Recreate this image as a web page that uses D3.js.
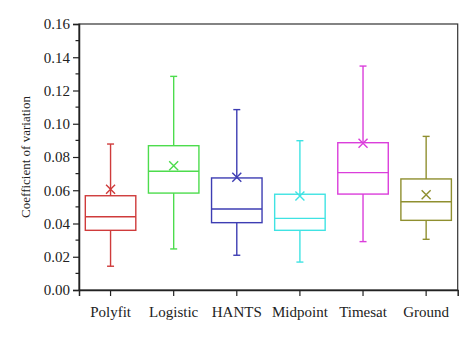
<!DOCTYPE html>
<html><head><meta charset="utf-8">
<script src="https://cdn.jsdelivr.net/npm/d3@7"></script>
<style>body{margin:0;background:#fff}svg{display:block}text{font-family:"Liberation Serif","Times New Roman",serif;fill:#222}</style>
</head><body><svg id="c" width="474" height="338"></svg>
<script>
const categories = ["Polyfit","Logistic","HANTS","Midpoint","Timesat","Ground"];
const whiskerLow  = [0.0143,0.0247,0.0209,0.0168,0.0291,0.0305];
const q1          = [0.0359,0.0583,0.0405,0.0359,0.0577,0.0419];
const median      = [0.0441,0.0714,0.0487,0.0431,0.0706,0.0531];
const q3          = [0.0567,0.0868,0.0674,0.0576,0.0886,0.0668];
const whiskerHigh = [0.0878,0.1285,0.1085,0.0898,0.1347,0.0924];
const means       = [0.0606,0.0748,0.0678,0.0565,0.0883,0.0573];
const colors = ["#cf3b3b","#4ddc4d","#3d3db3","#3fe3e3","#db3edb","#8f8f2f"];
const yTicks = [0,0.02,0.04,0.06,0.08,0.10,0.12,0.14,0.16];

const svg = d3.select("#c");
const L=79,T=24,R=457.7,B=290;
const x = d3.scaleBand().domain(categories).range([L,R]).padding(0);
const y = d3.scaleLinear().domain([0,0.16]).range([B,T]);

// frame
svg.append("rect").attr("x",L).attr("y",T).attr("width",R-L).attr("height",B-T)
  .attr("fill","none").attr("stroke","#333").attr("stroke-width",1.2);

// y axis
const ya = svg.append("g").attr("transform",`translate(${L},0)`)
  .call(d3.axisLeft(y).tickValues(yTicks).tickFormat(d3.format(".2f")).tickSize(6).tickPadding(3));
ya.select(".domain").attr("stroke","#222").attr("stroke-width",1.5);
ya.selectAll(".tick line").attr("stroke","#222").attr("stroke-width",1.2);
ya.selectAll("text").style("font-size","15px");
const minor = d3.range(0.01,0.16,0.02);
svg.append("g").selectAll("line").data(minor).join("line")
  .attr("x1",L-3.5).attr("x2",L).attr("y1",d=>y(d)).attr("y2",d=>y(d))
  .attr("stroke","#222").attr("stroke-width",1.2);

// x axis
const xa = svg.append("g").attr("transform",`translate(0,${B})`)
  .call(d3.axisBottom(x).tickSize(6).tickPadding(10));
xa.select(".domain").attr("stroke","#222").attr("stroke-width",1.5);
xa.selectAll(".tick line").attr("stroke","#222").attr("stroke-width",1.2);
xa.selectAll("text").style("font-size","15px");

// y label
svg.append("text").attr("transform",`translate(30,${(T+B)/2}) rotate(-90)`)
  .attr("text-anchor","middle").style("font-size","13px").text("Coefficient of variation");

// boxes
const bw = x.bandwidth()*0.8;
const g = svg.append("g");
categories.forEach((c,i)=>{
  const cx = x(c)+x.bandwidth()/2, col=colors[i];
  const gg = g.append("g").attr("stroke",col).attr("stroke-width",1.4).attr("fill","none");
  gg.append("line").attr("x1",cx).attr("x2",cx).attr("y1",y(whiskerHigh[i])).attr("y2",y(q3[i]));
  gg.append("line").attr("x1",cx).attr("x2",cx).attr("y1",y(q1[i])).attr("y2",y(whiskerLow[i]));
  [whiskerHigh[i],whiskerLow[i]].forEach(v=>gg.append("line").attr("x1",cx-3.5).attr("x2",cx+3.5).attr("y1",y(v)).attr("y2",y(v)));
  gg.append("rect").attr("x",cx-bw/2).attr("width",bw).attr("y",y(q3[i])).attr("height",y(q1[i])-y(q3[i]));
  gg.append("line").attr("x1",cx-bw/2).attr("x2",cx+bw/2).attr("y1",y(median[i])).attr("y2",y(median[i]));
  const my=y(means[i]), s=4.5;
  gg.append("path").attr("d",`M${cx-s},${my-s}L${cx+s},${my+s}M${cx-s},${my+s}L${cx+s},${my-s}`);
});
</script></body></html>
